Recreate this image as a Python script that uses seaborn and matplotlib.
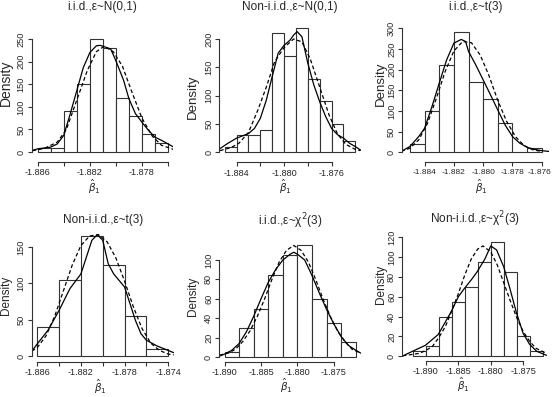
import matplotlib
matplotlib.use("Agg")
import matplotlib.pyplot as plt
import matplotlib.transforms as mtransforms
import seaborn as sns

sns.set_style("ticks")
FONT = ["Liberation Sans Narrow", "Liberation Sans", "DejaVu Sans"]
plt.rcParams["font.family"] = FONT
plt.rcParams["mathtext.fontset"] = "dejavusans"

W, H = 553, 397

titles = ["i.i.d.,ε~N(0,1)", "Non-i.i.d.,ε~N(0,1)", "i.i.d.,ε~t(3)",
          "Non-i.i.d.,ε~t(3)", "i.i.d.,ε~χ$^2$(3)", "Non-i.i.d.,ε~χ$^2$(3)"]

# histogram bin edges and densities
p1_edges = [-1.886, -1.885, -1.884, -1.883, -1.882, -1.881, -1.880, -1.879, -1.878, -1.877, -1.876]
p1_dens = [10, 10, 90, 150, 250, 230, 120, 80, 40, 20]
p2_edges = [-1.885, -1.884, -1.883, -1.882, -1.881, -1.880, -1.879, -1.878, -1.877, -1.876, -1.875, -1.874]
p2_dens = [10, 30, 30, 40, 210, 170, 220, 130, 90, 50, 20]
p3_edges = [-1.885, -1.884, -1.883, -1.882, -1.881, -1.880, -1.879, -1.878, -1.877, -1.876]
p3_dens = [20, 100, 210, 290, 170, 130, 70, 0, 10]
p4_edges = [-1.886, -1.884, -1.882, -1.880, -1.878, -1.876, -1.874]
p4_dens = [40, 105, 165, 125, 55, 10]
p5_edges = [-1.890, -1.888, -1.886, -1.884, -1.882, -1.880, -1.878, -1.876, -1.874, -1.872]
p5_dens = [5, 30, 50, 85, 105, 115, 60, 35, 15]
p6_edges = [-1.892, -1.890, -1.888, -1.886, -1.884, -1.882, -1.880, -1.878, -1.876, -1.874, -1.872]
p6_dens = [5, 10, 40, 55, 70, 95, 115, 85, 20, 5]

# kernel density (solid) curves
p1_kde_x = [-1.8864, -1.886, -1.885, -1.8845, -1.884, -1.8835, -1.883, -1.8825, -1.882, -1.8815, -1.8812,
            -1.8808, -1.8804, -1.880, -1.8794, -1.879, -1.8785, -1.878, -1.8775, -1.877, -1.8765, -1.876, -1.8755]
p1_kde_y = [4, 7, 11, 18, 37, 85, 136, 187, 220, 235, 236, 232, 228, 202, 158, 118, 85, 66, 48, 33, 26, 18, 10]
p2_kde_x = [-1.8855, -1.8848, -1.884, -1.883, -1.8825, -1.882, -1.8815, -1.881, -1.8805, -1.880, -1.8795,
            -1.8792, -1.8789, -1.8785, -1.878, -1.8775, -1.877, -1.8765, -1.876, -1.8755, -1.875, -1.8745,
            -1.874, -1.8735]
p2_kde_y = [5, 15, 25, 33, 42, 60, 92, 134, 175, 189, 198, 207, 213, 204, 157, 119, 89, 63, 42, 31, 25,
            16, 10, 3]
p3_kde_x = [-1.8856, -1.885, -1.8844, -1.884, -1.8835, -1.883, -1.8825, -1.882, -1.8815, -1.8812, -1.881,
            -1.8805, -1.880, -1.8795, -1.879, -1.8785, -1.878, -1.8775, -1.877, -1.8765, -1.876, -1.8755]
p3_kde_y = [2, 14, 38, 58, 110, 167, 223, 264, 273, 268, 244, 211, 175, 139, 102, 66, 38, 22, 12, 7, 4, 2]
p4_kde_x = [-1.8865, -1.886, -1.885, -1.884, -1.883, -1.882, -1.8815, -1.881, -1.8805, -1.880, -1.8795,
            -1.879, -1.878, -1.8775, -1.877, -1.8765, -1.876, -1.875, -1.874, -1.8735]
p4_kde_y = [7, 17, 36, 63, 93, 113, 136, 159, 167, 159, 127, 113, 95, 72, 49, 31, 22, 14, 8, 5]
p5_kde_x = [-1.8907, -1.890, -1.889, -1.888, -1.887, -1.886, -1.885, -1.884, -1.883, -1.882, -1.881,
            -1.8805, -1.880, -1.879, -1.878, -1.877, -1.876, -1.875, -1.874, -1.873, -1.872, -1.8713]
p5_kde_y = [1, 3, 7, 14, 26, 42, 60, 77, 90, 100, 106, 108, 106, 100, 84, 66, 49, 34, 21, 12, 7, 4]
p6_kde_x = [-1.8937, -1.8921, -1.8901, -1.8881, -1.8861, -1.885, -1.8841, -1.883, -1.8821, -1.8809, -1.880,
            -1.8791, -1.878, -1.877, -1.876, -1.875, -1.874, -1.8729, -1.8714]
p6_kde_y = [0, 5, 11, 22, 45, 60, 68, 77, 85, 98, 111, 107, 90, 67, 43, 23, 12, 5, 1]

# normal density (dashed) curves
p1_norm_x = [-1.8864, -1.8855, -1.8845, -1.8838, -1.883, -1.8822, -1.8815, -1.8809, -1.8802, -1.8795,
             -1.8788, -1.878, -1.8772, -1.8765, -1.8756]
p1_norm_y = [3, 8, 22, 50, 115, 180, 222, 234, 222, 190, 135, 75, 35, 15, 6]
p2_norm_x = [-1.8854, -1.8845, -1.8838, -1.883, -1.8822, -1.8815, -1.8808, -1.880, -1.8792, -1.8785,
             -1.8778, -1.877, -1.8762, -1.8755, -1.8748, -1.874, -1.8736]
p2_norm_y = [3, 8, 16, 35, 75, 115, 160, 185, 200, 195, 165, 115, 65, 32, 14, 5, 3]
p3_norm_x = [-1.8856, -1.885, -1.8844, -1.8838, -1.8832, -1.8826, -1.882, -1.8814, -1.8808, -1.8802,
             -1.8796, -1.879, -1.8784, -1.8778, -1.8772, -1.8766, -1.876]
p3_norm_y = [2, 10, 30, 70, 130, 195, 245, 268, 265, 235, 185, 125, 75, 38, 16, 6, 2]
p4_norm_x = [-1.8865, -1.886, -1.8852, -1.8844, -1.8836, -1.8828, -1.882, -1.8812, -1.8804, -1.8796,
             -1.8788, -1.878, -1.8772, -1.8764, -1.8756, -1.8748, -1.874, -1.8735]
p4_norm_y = [7, 12, 28, 55, 90, 125, 152, 165, 167, 157, 135, 103, 68, 38, 18, 8, 3, 2]
p5_norm_x = [-1.8907, -1.8895, -1.8885, -1.8875, -1.8865, -1.8855, -1.8845, -1.8835, -1.8825, -1.8815,
             -1.8805, -1.8795, -1.8785, -1.8775, -1.8765, -1.8755, -1.8745, -1.8735, -1.8725, -1.8713]
p5_norm_y = [2, 4, 8, 16, 27, 42, 60, 80, 98, 110, 115, 110, 98, 80, 60, 42, 27, 16, 8, 4]
p6_norm_x = [-1.8936, -1.891, -1.890, -1.889, -1.888, -1.887, -1.886, -1.885, -1.884, -1.883, -1.882,
             -1.8812, -1.880, -1.879, -1.878, -1.877, -1.876, -1.875, -1.874, -1.873, -1.8714]
p6_norm_y = [0.5, 3, 6, 10, 19, 30, 46, 63, 82, 98, 108, 111, 105, 92, 74, 56, 39, 25, 15, 8, 3]

# axis ticks and labels
p1_xticks = [-1.886, -1.884, -1.882, -1.880, -1.878, -1.876]
p1_xlabels = ["-1.886", "", "-1.882", "", "-1.878", ""]
p1_yticks = [0, 50, 100, 150, 200, 250]
p2_xticks = [-1.884, -1.882, -1.880, -1.878, -1.876]
p2_xlabels = ["-1.884", "", "-1.880", "", "-1.876"]
p2_yticks = [0, 50, 100, 150, 200]
p3_xticks = [-1.884, -1.882, -1.880, -1.878, -1.876]
p3_xlabels = ["-1.884", "-1.882", "-1.880", "-1.878", "-1.876"]
p3_yticks = [0, 50, 100, 150, 200, 250, 300]
p4_xticks = [-1.886, -1.884, -1.882, -1.880, -1.878, -1.876, -1.874]
p4_xlabels = ["-1.886", "", "-1.882", "", "-1.878", "", "-1.874"]
p4_yticks = [0, 50, 100, 150]
p5_xticks = [-1.890, -1.885, -1.880, -1.875]
p5_xlabels = ["-1.890", "-1.885", "-1.880", "-1.875"]
p5_yticks = [0, 20, 40, 60, 80, 100]
p6_xticks = [-1.890, -1.885, -1.880, -1.875]
p6_xlabels = ["-1.890", "-1.885", "-1.880", "-1.875"]
p6_yticks = [0, 20, 40, 60, 80, 100, 120]

panels = [
    (p1_edges, p1_dens, p1_kde_x, p1_kde_y, p1_norm_x, p1_norm_y, p1_xticks, p1_xlabels, p1_yticks),
    (p2_edges, p2_dens, p2_kde_x, p2_kde_y, p2_norm_x, p2_norm_y, p2_xticks, p2_xlabels, p2_yticks),
    (p3_edges, p3_dens, p3_kde_x, p3_kde_y, p3_norm_x, p3_norm_y, p3_xticks, p3_xlabels, p3_yticks),
    (p4_edges, p4_dens, p4_kde_x, p4_kde_y, p4_norm_x, p4_norm_y, p4_xticks, p4_xlabels, p4_yticks),
    (p5_edges, p5_dens, p5_kde_x, p5_kde_y, p5_norm_x, p5_norm_y, p5_xticks, p5_xlabels, p5_yticks),
    (p6_edges, p6_dens, p6_kde_x, p6_kde_y, p6_norm_x, p6_norm_y, p6_xticks, p6_xlabels, p6_yticks),
]

# layout in pixels: plot box (left, top, right, bottom), limits, label spots
boxes = [(32, 34.5, 173.2, 162), (219.5, 22.7, 360.6, 162.3), (402.3, 27.6, 549.4, 162.3),
         (32, 231.2, 173.5, 361.7), (219.3, 241, 361, 361.7), (402.3, 236, 547.8, 361)]
xlims = [(-1.88644, -1.8756), (-1.88544, -1.87356), (-1.88552, -1.87548),
         (-1.88648, -1.87352), (-1.89072, -1.87128), (-1.89365, -1.8712)]
ylims = [(-22, 260), (-17.7, 228.8), (-24.2, 301.6), (-7.4, 171.6), (-4.8, 119.6), (-4.7, 121)]
title_y = [7.3, 7.3, 7.3, 220, 221, 219]
ylab_pos = [(6, 83), (192.7, 97), (381.3, 84), (6, 295), (192.7, 296), (381.3, 284)]
ylab_size = [10, 9.5, 9.5, 8.5, 8.5, 8.5]
xtick_size = [6.6, 6.6, 6.0, 6.6, 6.6, 6.6]
xlab_pos = [(94.3, 187), (285.7, 187), (481.3, 187), (100, 387), (286, 386), (463, 385)]

fig = plt.figure(figsize=(W / 100, H / 100), dpi=100)
edge_col = "#333333"

for i, (edges, dens, kx, ky, nx, ny, xt, xl, yt) in enumerate(panels):
    l, t, r, b = boxes[i]
    ax = fig.add_axes([l / W, 1 - b / H, (r - l) / W, (b - t) / H])
    centers = [(edges[j] + edges[j + 1]) / 2 for j in range(len(dens))]
    sns.histplot(x=centers, weights=dens, bins=edges, stat="count", ax=ax,
                 color="white", edgecolor=edge_col, linewidth=0.8, alpha=1)
    sns.lineplot(x=kx, y=ky, ax=ax, color="black", linewidth=0.9, sort=False, estimator=None)
    sns.lineplot(x=nx, y=ny, ax=ax, color="black", linewidth=0.9, sort=False, estimator=None,
                 linestyle=(0, (3, 2)))
    ax.set_xlim(*xlims[i])
    ax.set_ylim(*ylims[i])
    ax.set_xticks(xt)
    ax.set_xticklabels(xl)
    ax.set_yticks(yt)
    ax.set_yticklabels([str(v) for v in yt])
    for s in ["top", "right"]:
        ax.spines[s].set_visible(False)
    ax.spines["left"].set_bounds(yt[0], yt[-1])
    ax.spines["bottom"].set_bounds(xt[0], xt[-1])
    for s in ["left", "bottom"]:
        ax.spines[s].set_color(edge_col)
        ax.spines[s].set_linewidth(0.8)
    ax.tick_params(length=3, width=0.8, color=edge_col, labelsize=6.6, pad=1.5)
    ax.tick_params(axis="x", labelsize=xtick_size[i])
    ax.tick_params(axis="y", labelrotation=90)
    for lbl in ax.get_yticklabels():
        lbl.set_verticalalignment("center")
    if i == 2:
        # last label sits at the figure edge: nudge it inward a little
        last = ax.get_xticklabels()[-1]
        last.set_transform(last.get_transform()
                           + mtransforms.ScaledTranslation(-1.5 / 72, 0, fig.dpi_scale_trans))
    ax.set_facecolor("none")
    ax.set_xlabel("")
    ax.set_ylabel("")
    fig.text((l + r) / 2 / W, 1 - title_y[i] / H, titles[i], ha="center", va="center", fontsize=8.5)
    fig.text(ylab_pos[i][0] / W, 1 - ylab_pos[i][1] / H, "Density", rotation=90,
             ha="center", va="center", fontsize=ylab_size[i])
    fig.text(xlab_pos[i][0] / W, 1 - xlab_pos[i][1] / H, r"$\hat{\beta}_1$",
             ha="center", va="center", fontsize=7.5)

fig.savefig("out.png", dpi=100, facecolor="white")
